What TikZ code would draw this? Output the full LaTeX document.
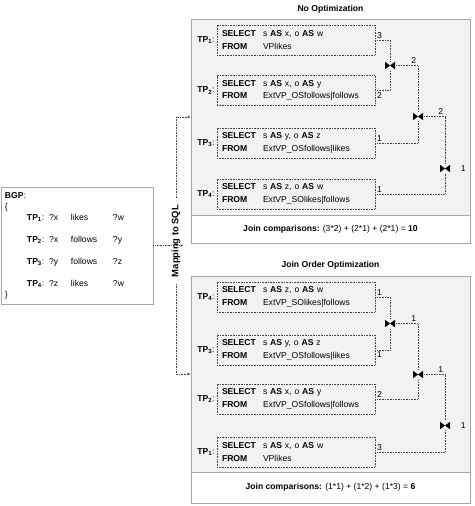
\documentclass[tikz,border=0pt]{standalone}
\usepackage{fontspec}
\setmainfont{Liberation Sans}
\usetikzlibrary{arrows.meta, positioning, shadows}

\newcommand{\tplab}[1]{\textbf{TP}\textsubscript{\textbf{#1}}:}
\newcommand{\sqlq}[3]{\makebox[41pt][l]{\textbf{SELECT}}s \textbf{AS} #1, o \textbf{AS} #2\\
  \makebox[41pt][l]{\textbf{FROM}}#3}

\tikzset{
  txt/.style={font=\fontsize{8.6}{12.5}\selectfont, text=black},
  num/.style={txt, inner sep=1.5pt},
  ttl/.style={font=\bfseries\fontsize{8.6}{11}\selectfont},
  panel/.style={draw=gray!70, line width=0.7pt, fill=gray!10,
    minimum width=279pt, minimum height=196pt, inner sep=0pt,
    drop shadow={shadow xshift=0.9pt, shadow yshift=-0.9pt, fill=gray!85, opacity=1}},
  cmpbox/.style={panel, txt, fill=white, minimum height=28pt},
  sqlbox/.style={txt, draw=gray!55!black, densely dotted, line width=0.6pt,
    minimum width=158pt, minimum height=30pt, text width=148pt,
    inner xsep=5pt, align=left},
  joinop/.style={minimum width=10pt, minimum height=7.5pt, inner sep=0pt, outer sep=1.2pt,
    path picture={\fill[black] (path picture bounding box.south west)
      -- (path picture bounding box.center) -- (path picture bounding box.south east)
      -- (path picture bounding box.north east) -- (path picture bounding box.center)
      -- (path picture bounding box.north west) -- cycle;}},
  link/.style={densely dotted, gray!55!black, line width=0.6pt},
  maplink/.style={link, -{Latex[length=3pt, width=2.6pt]}},
}

\begin{document}
\begin{tikzpicture}[x=1pt, y=-1pt]
  \useasboundingbox (0,0) rectangle (474,506);

  % Basic graph pattern
  \node[txt, draw=gray!70, line width=0.7pt, fill=white, text width=144pt, minimum height=117pt,
        inner xsep=4pt, inner ysep=3pt, align=left,
        drop shadow={shadow xshift=0.9pt, shadow yshift=-0.9pt, fill=gray!85, opacity=1},
        font=\fontsize{8.6}{11}\selectfont] (bgp) at (77,245.5) {%
    \begin{tabular}{@{}p{22pt}@{}p{22pt}@{}p{22pt}@{}p{42pt}@{}l@{}}
      \multicolumn{5}{@{}l@{}}{\textbf{BGP}:}\\
      \{\\
      & \tplab{1} & ?x & likes & ?w\\[11pt]
      & \tplab{2} & ?x & follows & ?y\\[11pt]
      & \tplab{3} & ?y & follows & ?z\\[11pt]
      & \tplab{4} & ?z & likes & ?w\\
      \}
    \end{tabular}};

  % Panels
  \node[panel] (npanel) at (330.5,117) {};
  \node[cmpbox] (ncmp) at (330.5,229)
    {\textbf{Join comparisons:} (3*2) + (2*1) + (2*1) = \textbf{10}};
  \node[ttl, above=1.5pt of npanel] (ntitle) {No Optimization};

  \node[panel] (opanel) at (330.5,374) {};
  \node[cmpbox, minimum height=31pt] (ocmp) at (330.5,487.5)
    {\textbf{Join comparisons:} (1*1) + (1*2) + (1*3) = \textbf{6}};
  \node[ttl, above=2.5pt of opanel] (otitle) {Join Order Optimization};

  % Mapping to SQL
  \node[ttl, font=\bfseries\fontsize{9.4}{11}\selectfont, rotate=90,
        inner xsep=7pt, inner ysep=3pt] (map) at (176,241) {Mapping to SQL};
  \coordinate (mtop) at (map.east |- npanel.west);
  \coordinate (mbot) at (map.west |- opanel.west);
  \draw[maplink] (map.east) -- (mtop) -- (npanel.west);
  \draw[maplink] (map.west) -- (mbot) -- (opanel.west);
  \draw[maplink] (bgp.east) -- (bgp.east -| map.south);

  % SQL queries, no optimization
  \foreach \i/\y/\s/\o/\tab in {1/40/x/w/VPlikes,
      2/90.5/x/y/ExtVP\_OSfollows|follows,
      3/143/y/z/ExtVP\_OSfollows|likes,
      4/194/z/w/ExtVP\_SOlikes|follows}{
    \node[sqlbox] (n\i) at (296,\y) {\sqlq{\s}{\o}{\tab}};
    \node[txt, inner sep=1pt, left=1pt of n\i] (nl\i) {\tplab{\i}};
  }

  % SQL queries, join order optimization
  \foreach \i/\y/\k/\s/\o/\tab in {1/297/4/z/w/ExtVP\_SOlikes|follows,
      2/350/3/y/z/ExtVP\_OSfollows|likes,
      3/399/2/x/y/ExtVP\_OSfollows|follows,
      4/452/1/x/w/VPlikes}{
    \node[sqlbox] (o\i) at (296,\y) {\sqlq{\s}{\o}{\tab}};
    \node[txt, inner sep=1pt, left=1pt of o\i] (ol\i) {\tplab{\k}};
  }

  % Joins
  \node[joinop] (nj1) at (390,65.5) {};
  \node[joinop] (nj2) at (418,116.5) {};
  \node[joinop] (nj3) at (445,168.5) {};
  \node[joinop] (oj1) at (390,323.5) {};
  \node[joinop] (oj2) at (418,374.5) {};
  \node[joinop] (oj3) at (445,425.5) {};

  \draw[link] (n1.east) -| node[num, above right, pos=0] {3} (nj1.north);
  \draw[link] (n2.east) -| node[num, below right, pos=0] {2} (nj1.south);
  \draw[link] (nj1.east) -| node[num, above left, pos=0.5] {2} (nj2.north);
  \draw[link] (n3.east) -| node[num, above right, pos=0] {1} (nj2.south);
  \draw[link] (nj2.east) -| node[num, above left, pos=0.5] {2} (nj3.north);
  \draw[link] (n4.east) -| node[num, above right, pos=0] {1} (nj3.south);
  \node[num, right=8pt of nj3] (nout) {1};

  \draw[link] (o1.east) -| node[num, above right, pos=0] {1} (oj1.north);
  \draw[link] (o2.east) -| node[num, below right, pos=0] {1} (oj1.south);
  \draw[link] (oj1.east) -| node[num, above left, pos=0.5] {1} (oj2.north);
  \draw[link] (o3.east) -| node[num, above right, pos=0] {2} (oj2.south);
  \draw[link] (oj2.east) -| node[num, above left, pos=0.5] {1} (oj3.north);
  \draw[link] (o4.east) -| node[num, above right, pos=0] {3} (oj3.south);
  \node[num, right=8pt of oj3] (oout) {1};
\end{tikzpicture}
\end{document}
